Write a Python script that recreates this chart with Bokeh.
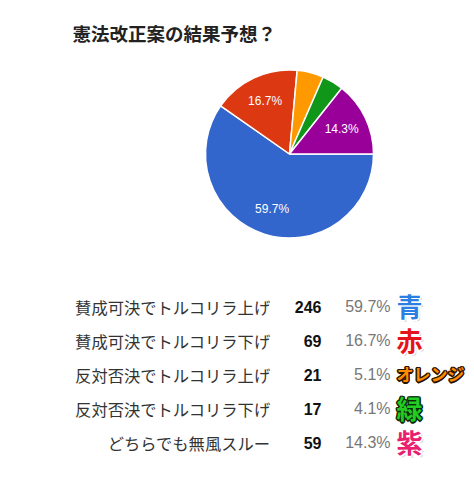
import math
from bokeh.plotting import figure
from bokeh.models import ColumnDataSource, Range1d
from bokeh.core.properties import value
from bokeh.embed import file_html
from bokeh.resources import INLINE

# ---- data ----
title = "憲法改正案の結果予想？"
categories = ["賛成可決でトルコリラ上げ", "賛成可決でトルコリラ下げ",
              "反対否決でトルコリラ上げ", "反対否決でトルコリラ下げ",
              "どちらでも無風スルー"]
counts = [246, 69, 21, 17, 59]
percent_labels = ["59.7%", "16.7%", "5.1%", "4.1%", "14.3%"]
slice_colors = ["#3366cc", "#dc3912", "#ff9900", "#109618", "#990099"]
tag_labels = ["青", "赤", "オレンジ", "緑", "紫"]
tag_colors = ["#2b7fe3", "#e3141c", "#ff8c00", "#22cc22", "#e8206e"]
tag_outlines = ["#ffffff", "#ffffff", "#2a1400", "#0a2a0a", "#ffffff"]
tag_sizes = ["26px", "26px", "17px", "26px", "26px"]

W, H = 466, 486
def Y(img_y):
    return H - img_y

p = figure(width=W, height=H, output_backend="svg", toolbar_location=None,
           x_range=Range1d(0, W), y_range=Range1d(0, H),
           x_axis_location=None, y_axis_location=None, min_border=0)
p.grid.visible = False
p.outline_line_color = None
p.background_fill_color = "white"
p.border_fill_color = "white"

# ---- pie ----
cx, cy, r = 289, Y(153.5), 84
total = sum(counts)
starts, ends, lx, ly, ltxt = [], [], [], [], []
cum = 0
for c, pl in zip(counts, percent_labels):
    a0 = -2 * math.pi * cum / total
    cum += c
    a1 = -2 * math.pi * cum / total
    starts.append(a0)
    ends.append(a1)
    m = (a0 + a1) / 2
    lx.append(cx + 0.69 * r * math.cos(m))
    ly.append(cy + 0.69 * r * math.sin(m))
    ltxt.append(pl if c / total >= 0.1 else "")

src = ColumnDataSource(dict(start=starts, end=ends, color=slice_colors))
p.wedge(x=cx, y=cy, radius=r, start_angle="start", end_angle="end",
        direction="clock", fill_color="color", line_color="white",
        line_width=1.5, source=src)
p.text(x=lx, y=ly, text=ltxt, text_color="white", text_font=value("Liberation Sans"),
       text_font_size="12px", text_align="center", text_baseline="middle")

# ---- title ----
p.text(x=[72], y=[Y(32)], text=[title], text_color="#222222",
       text_font=value("Noto Sans CJK JP"), text_font_style="bold",
       text_font_size="18.5px", text_align="left", text_baseline="middle")

# ---- table ----
rows_y = [Y(306 + 34 * i) for i in range(len(categories))]
p.text(x=[270] * len(categories), y=rows_y, text=categories, text_color="#333333",
       text_font=value("Noto Sans CJK JP"), text_font_size="16.3px",
       text_align="right", text_baseline="middle")
p.text(x=[321] * len(counts), y=rows_y, text=[str(c) for c in counts],
       text_color="#111111", text_font=value("Liberation Sans"),
       text_font_style="bold", text_font_size="16px",
       text_align="right", text_baseline="middle")
p.text(x=[390] * len(counts), y=rows_y, text=percent_labels,
       text_color="#777777", text_font=value("Liberation Sans"),
       text_font_size="16px", text_align="right", text_baseline="middle")

# decorative tags with outline
offsets = [(-1.5, 0), (1.5, 0), (0, -1.5), (0, 1.5),
           (-1.1, -1.1), (1.1, -1.1), (-1.1, 1.1), (1.1, 1.1)]
for i, (t, col, oc, fs) in enumerate(zip(tag_labels, tag_colors, tag_outlines, tag_sizes)):
    y0 = rows_y[i] + 1
    if oc == "#ffffff":
        p.text(x=[396 + 2], y=[y0 - 2], text=[t], text_color="#bbbbbb",
               text_alpha=0.6, text_font=value("Noto Sans CJK JP"),
               text_font_style="bold", text_font_size=fs,
               text_align="left", text_baseline="middle")
    for dx, dy in offsets:
        p.text(x=[396 + dx], y=[y0 + dy], text=[t], text_color=oc,
               text_font=value("Noto Sans CJK JP"), text_font_style="bold",
               text_font_size=fs, text_align="left", text_baseline="middle")
    p.text(x=[396], y=[y0], text=[t], text_color=col,
           text_font=value("Noto Sans CJK JP"), text_font_style="bold",
           text_font_size=fs, text_align="left", text_baseline="middle")

open("out.html", "w").write(file_html(p, INLINE))
